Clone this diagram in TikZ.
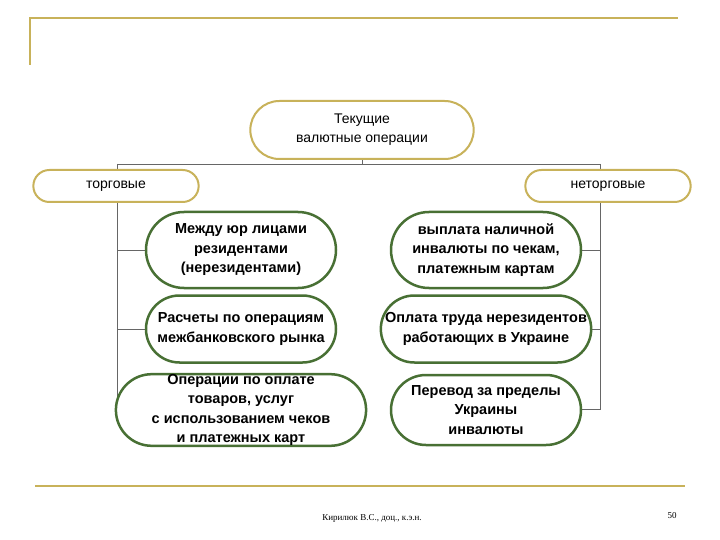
\documentclass[tikz,border=0pt]{standalone}
\usepackage{fontspec}
\usetikzlibrary{shapes.misc}
\setmainfont{Liberation Sans}
\newfontfamily\serifft{Liberation Serif}
\definecolor{gold}{RGB}{200,178,90}
\definecolor{dgreen}{RGB}{72,112,52}
\begin{document}
\begin{tikzpicture}[x=1pt,y=-1pt,
  gbox/.style={draw=gold,line width=2pt,rounded rectangle,fill=white,align=center,font=\fontsize{14}{19}\selectfont},
  grbox/.style={draw=dgreen,line width=2.5pt,rounded rectangle,fill=white,align=center,minimum width=190pt,inner xsep=0pt,inner ysep=0pt,font=\bfseries\fontsize{14.5}{19.5}\selectfont},
  conn/.style={draw=black!60,line width=0.6pt}]
\useasboundingbox (0,0) rectangle (720,540);
\fill[white] (0,0) rectangle (720,540);
\draw[gold,line width=1.5pt] (30,65) -- (30,18) -- (678,18);
\draw[gold,line width=2pt] (35,486) -- (685,486);
\draw[conn] (117,164) -- (600,164);
\draw[conn] (117,164) -- (117,410);
\draw[conn] (600,164) -- (600,410);
\draw[conn] (362,160) -- (362,164);
\foreach \y in {250,329,409}{\draw[conn] (117,\y) -- (145,\y); \draw[conn] (582,\y) -- (600,\y);}
\node[gbox,minimum width=230pt,minimum height=58pt] (top) at (362,130) {Текущие\\валютные операции};
\node[gbox,minimum width=172pt,minimum height=32pt] (trade) at (116,186) {торговые};
\node[gbox,minimum width=172pt,minimum height=32pt] (ntrade) at (608,186) {неторговые};
\node[grbox,minimum height=76pt] (l1) at (241,250) {Между юр лицами\\резидентами\\(нерезидентами)};
\node[grbox,minimum height=67pt] (l2) at (241,329) {Расчеты по операциям\\межбанковского рынка};
\node[grbox,minimum height=70pt] (l3) at (241,410) {Операции по оплате\\товаров, услуг\\с использованием чеков\\и платежных карт};
\node[grbox,minimum height=76pt] (r1) at (486,250) {выплата наличной\\инвалюты по чекам,\\платежным картам};
\node[grbox,minimum height=67pt] (r2) at (486,329) {Оплата труда нерезидентов\\работающих в Украине};
\node[grbox,minimum height=70pt] (r3) at (486,410) {Перевод за пределы\\Украины\\инвалюты};
\node[font=\serifft\fontsize{9}{10}\selectfont] (auth) at (372,518) {Кирилюк В.С., доц., к.э.н.};
\node[font=\serifft\fontsize{9}{10}\selectfont] (pg) at (672,516) {50};
\end{tikzpicture}
\end{document}
